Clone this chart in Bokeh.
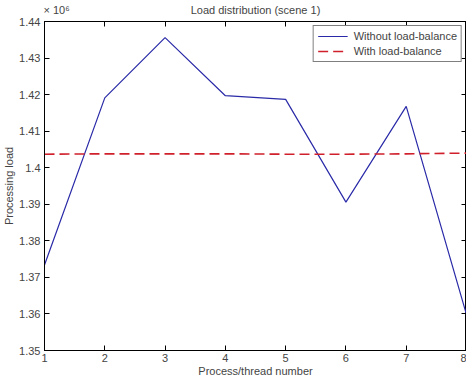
from bokeh.plotting import figure
from bokeh.models import LinearAxis, FixedTicker, Legend, LegendItem, Range1d
from bokeh.embed import file_html
from bokeh.resources import INLINE

# Data (processing load, in units of 10^6)
process = [1, 2, 3, 4, 5, 6, 7, 8]
without_lb = [1.3734, 1.4191, 1.4356, 1.4197, 1.4187, 1.3906, 1.4168, 1.3598]
with_lb = [1.4037, 1.4038, 1.4038, 1.4038, 1.4037, 1.4037, 1.4038, 1.4040]

x_ticks = [1, 2, 3, 4, 5, 6, 7, 8]
y_ticks = [1.35, 1.36, 1.37, 1.38, 1.39, 1.40, 1.41, 1.42, 1.43, 1.44]
y_tick_labels = ["1.35", "1.36", "1.37", "1.38", "1.39", "1.4", "1.41", "1.42", "1.43", "1.44"]

title_text = "Load distribution (scene 1)"
scale_text = "× 10⁶"
x_label = "Process/thread number"
y_label = "Processing load"

FONT = "Liberation Sans"
FS = "11px"

p = figure(width=466, height=379, output_backend="svg", toolbar_location=None,
           x_range=Range1d(1, 8), y_range=Range1d(1.35, 1.44),
           min_border_left=42, min_border_right=0, min_border_top=21, min_border_bottom=26)

p.xgrid.visible = False
p.ygrid.visible = False
p.outline_line_color = "black"
p.outline_line_width = 1
p.background_fill_color = "white"
p.border_fill_color = "white"

r1 = p.line(process, without_lb, line_color="#2a2aa8", line_width=1.2)
r2 = p.line(process, with_lb, line_color="#d0202c", line_width=1.6, line_dash="10 5")

# axes
for ax in (p.xaxis[0], p.yaxis[0]):
    ax.major_tick_in = 5
    ax.major_tick_out = 0
    ax.minor_tick_line_color = None
    ax.major_label_text_font = FONT
    ax.major_label_text_font_size = FS
    ax.axis_label_text_font = FONT
    ax.axis_label_text_font_size = FS
    ax.axis_label_text_font_style = "normal"
    ax.axis_line_color = "black"
    ax.major_label_standoff = 4
    ax.axis_label_standoff = 1

p.xaxis[0].major_label_standoff = 3
p.xaxis[0].axis_label_standoff = 0
p.xaxis[0].ticker = FixedTicker(ticks=x_ticks)
p.xaxis[0].axis_label = x_label
p.yaxis[0].ticker = FixedTicker(ticks=y_ticks)
p.yaxis[0].major_label_overrides = {t: s for t, s in zip(y_ticks, y_tick_labels)}
p.yaxis[0].axis_label = y_label

# top axis: tick marks at 1..8 (as minor ticks), and the title / scale factor as labels
title_pos = (x_ticks[0] + x_ticks[-1]) / 2
scale_pos = 1.2
top = LinearAxis(ticker=FixedTicker(ticks=[scale_pos, title_pos], minor_ticks=x_ticks),
                 major_tick_line_color=None, major_tick_in=0, major_tick_out=0,
                 minor_tick_in=5, minor_tick_out=0,
                 major_label_standoff=6,
                 major_label_text_font=FONT, major_label_text_font_size=FS,
                 major_label_overrides={scale_pos: scale_text, title_pos: title_text})
right = LinearAxis(ticker=FixedTicker(ticks=y_ticks), major_tick_in=5, major_tick_out=0,
                   minor_tick_line_color=None, major_label_standoff=0,
                   major_label_overrides={t: "" for t in y_ticks})
p.add_layout(top, "above")
p.add_layout(right, "right")

legend = Legend(items=[LegendItem(label="Without load-balance", renderers=[r1]),
                       LegendItem(label="With load-balance", renderers=[r2])],
                location="top_right")
legend.label_text_font = FONT
legend.label_text_font_size = FS
legend.border_line_color = "black"
legend.border_line_width = 1
legend.glyph_width = 30
legend.glyph_height = 12
legend.label_height = 12
legend.spacing = 3
legend.padding = 4
legend.margin = 4
legend.label_standoff = 6
p.add_layout(legend)

open("out.html", "w").write(file_html(p, INLINE))
